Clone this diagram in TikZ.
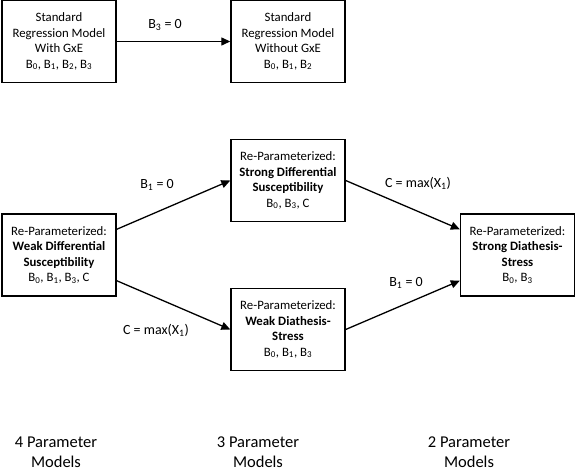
\documentclass[tikz,border=0pt]{standalone}
\usepackage{fontspec}
\setmainfont{Carlito}
\usepackage{tikz}
\usetikzlibrary{arrows.meta}
\usetikzlibrary{shapes}

\begin{document}
\begin{tikzpicture}[x=1pt,y=1pt]
\tikzset{font=\fontsize{12.8}{15.4}\selectfont}
\tikzset{model/.style={draw, line width=1.4pt, minimum width=114pt, minimum height=82pt, align=center, inner sep=2pt}}
\tikzset{trans/.style={draw, line width=1.3pt, -{Triangle[length=9pt,width=8pt]}}}
\tikzset{rule/.style={font=\fontsize{14}{17}\selectfont}}
\tikzset{count/.style={align=center, font=\fontsize{16.5}{20}\selectfont}}
\useasboundingbox (0,0) rectangle (576,472);
% top row
\node[model] (withgxe) at (59,430.5) {Standard\\Regression Model\\With GxE\\B\textsubscript{0}, B\textsubscript{1}, B\textsubscript{2}, B\textsubscript{3}};
\node[model] (nogxe) at (288,430.5) {Standard\\Regression Model\\Without GxE\\B\textsubscript{0}, B\textsubscript{1}, B\textsubscript{2}};
% re-parameterized models
\node[model] (weakds) at (59,217) {Re-Parameterized:\\\textbf{Weak Differential}\\\textbf{Susceptibility}\\B\textsubscript{0}, B\textsubscript{1}, B\textsubscript{3}, C};
\node[model] (strongds) at (288,291.5) {Re-Parameterized:\\\textbf{Strong Differential}\\\textbf{Susceptibility}\\B\textsubscript{0}, B\textsubscript{3}, C};
\node[model] (weakdia) at (288,142.5) {Re-Parameterized:\\\textbf{Weak Diathesis-}\\\textbf{Stress}\\B\textsubscript{0}, B\textsubscript{1}, B\textsubscript{3}};
\node[model] (strongdia) at (517.5,217) {Re-Parameterized:\\\textbf{Strong Diathesis-}\\\textbf{Stress}\\B\textsubscript{0}, B\textsubscript{3}};
% constraints
\path[trans] (withgxe) -- (nogxe);
\path[trans] (weakds.24) -- (strongds.west);
\path[trans] (weakds.336) -- (weakdia.west);
\path[trans] (strongds.east) -- (strongdia.156);
\path[trans] (weakdia.east) -- (strongdia.204);
\node[rule] (b3zero) at (165,447) {B\textsubscript{3} = 0};
\node[rule] (b1zeroa) at (157,287) {B\textsubscript{1} = 0};
\node[rule] (cmaxa) at (156,142) {C = max(X\textsubscript{1})};
\node[rule] (cmaxb) at (418,289) {C = max(X\textsubscript{1})};
\node[rule] (b1zerob) at (406,189) {B\textsubscript{1} = 0};
% parameter counts
\node[count] (four) at (56,20) {4 Parameter\\Models};
\node[count] (three) at (258,20) {3 Parameter\\Models};
\node[count] (two) at (469,20) {2 Parameter\\Models};
\end{tikzpicture}
\end{document}
